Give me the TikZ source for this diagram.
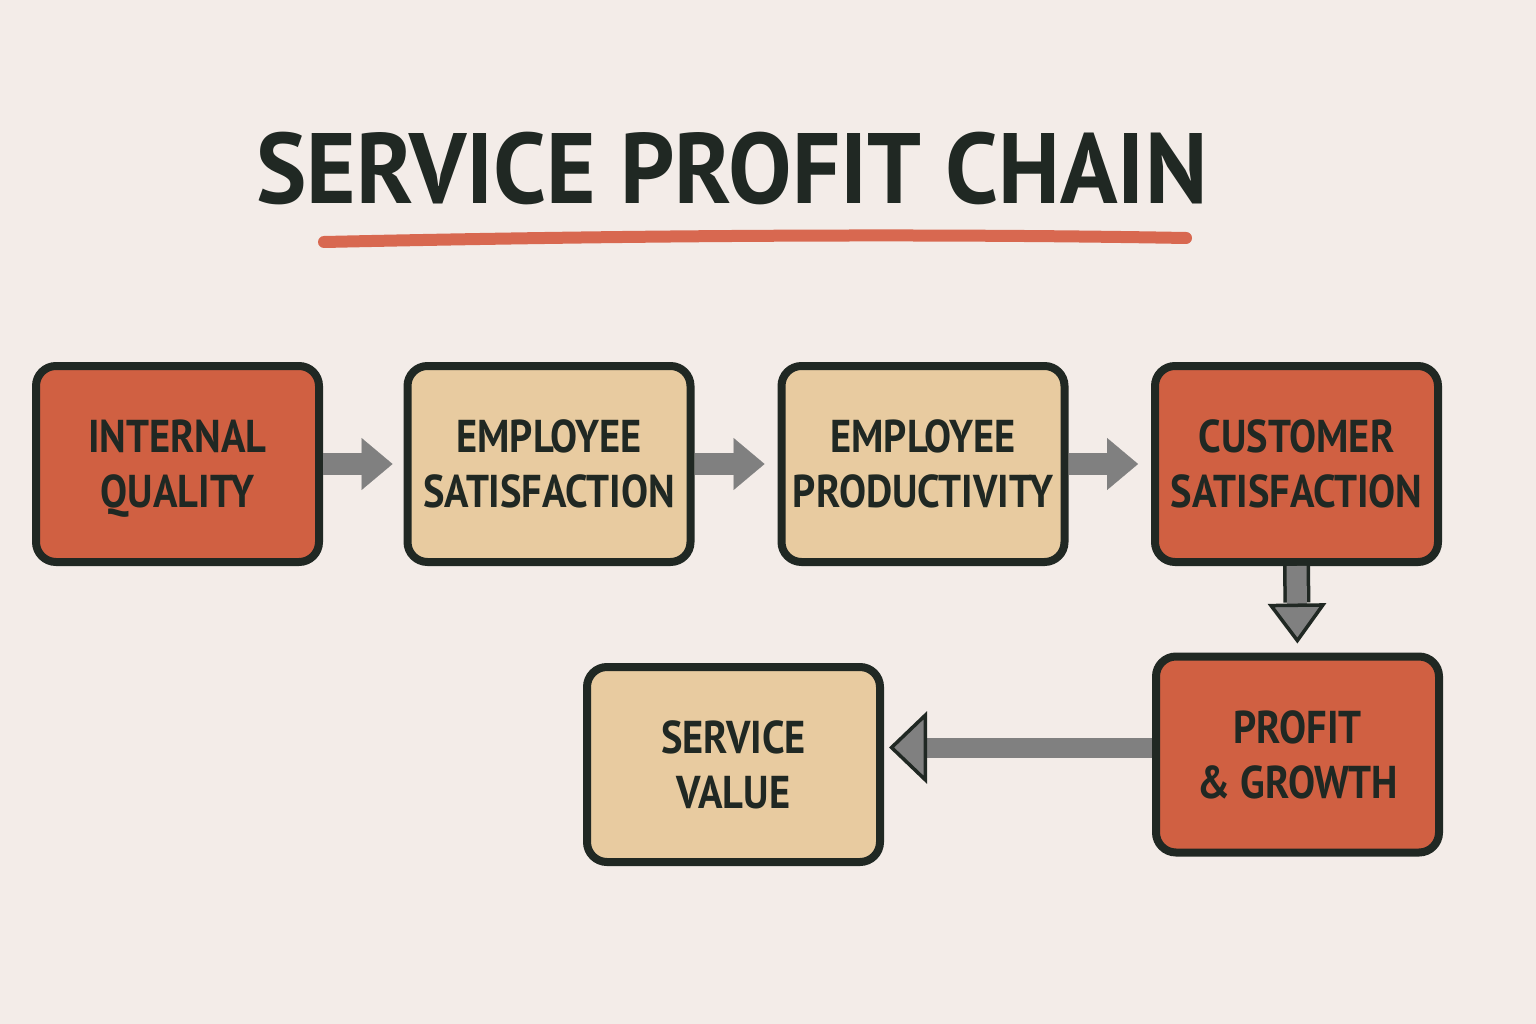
\documentclass[tikz,border=0pt]{standalone}
\usepackage{fontspec}
\setmainfont{PT Sans}[FakeStretch=0.88]
\newfontfamily\titlefont{PT Sans}[FakeStretch=0.95]
\usetikzlibrary{arrows.meta}
\definecolor{bg}{RGB}{243,236,232}
\definecolor{redbox}{RGB}{208,96,66}
\definecolor{beige}{RGB}{232,203,160}
\definecolor{ink}{RGB}{32,40,35}
\definecolor{arrowgray}{RGB}{128,128,128}
\definecolor{uline}{RGB}{216,104,80}
\tikzset{
  card/.style={draw=ink, line width=8pt, rounded corners=20pt, minimum width=283pt,
    minimum height=196pt, align=center, text=ink, inner sep=0pt, text depth=0pt,
    font=\bfseries\fontsize{46}{55}\selectfont},
  redcard/.style={card, fill=redbox},
  tancard/.style={card, fill=beige},
  flow/.style={draw=arrowgray, line width=22pt,
    -{Triangle[length=31pt,width=52pt,line width=0.1pt,fill=arrowgray,color=arrowgray]}},
  flowout/.style={draw=arrowgray, line width=20pt,
    -{Triangle[length=40pt,width=58pt,line width=3.5pt,fill=arrowgray,color=ink]}},
  flowwide/.style={draw=arrowgray, line width=20pt,
    -{Triangle[length=38pt,width=72pt,line width=3.5pt,fill=arrowgray,color=ink]}},
  flowshadow/.style={draw=ink, line width=27pt},
}
\begin{document}
\begin{tikzpicture}[x=1pt,y=-1pt]
\useasboundingbox (0,0) rectangle (1536,1024);
\fill[bg] (0,0) rectangle (1536,1024);

\node[text=ink, font=\titlefont\bfseries\fontsize{100}{104}\selectfont] (title) at (732,169) {SERVICE PROFIT CHAIN};
\draw[uline, line width=12pt, line cap=round] (324,242) .. controls (600,236) and (900,233) .. (1186,238);

\node[redcard] (b1) at (177.5,464) {INTERNAL\\QUALITY};
\node[tancard] (b2) at (549,464) {EMPLOYEE\\SATISFACTION};
\node[tancard] (b3) at (923,464) {EMPLOYEE\\PRODUCTIVITY};
\node[redcard] (b4) at (1296.5,464) {CUSTOMER\\SATISFACTION};
\node[redcard] (b5) at (1297.5,754.5) {PROFIT\\\& GROWTH};
\node[tancard, minimum width=293pt, minimum height=195pt] (b6) at (733.5,764.5) {SERVICE\\VALUE};

\draw[flow, shorten >=11pt] (b1.east) -- (b2.west);
\draw[flow, shorten >=13pt] (b2.east) -- (b3.west);
\draw[flow, shorten >=13pt] (b3.east) -- (b4.west);

\draw[flowshadow, shorten >=50pt] (b4.south) -- (b5.north);
\draw[flowout, shorten >=9pt] (b4.south) -- (b5.north);

\coordinate (lstart) at ([yshift=7pt]b5.west);
\draw[flowwide, shorten >=5pt] (lstart) -- (lstart -| b6.east);
\end{tikzpicture}
\end{document}
